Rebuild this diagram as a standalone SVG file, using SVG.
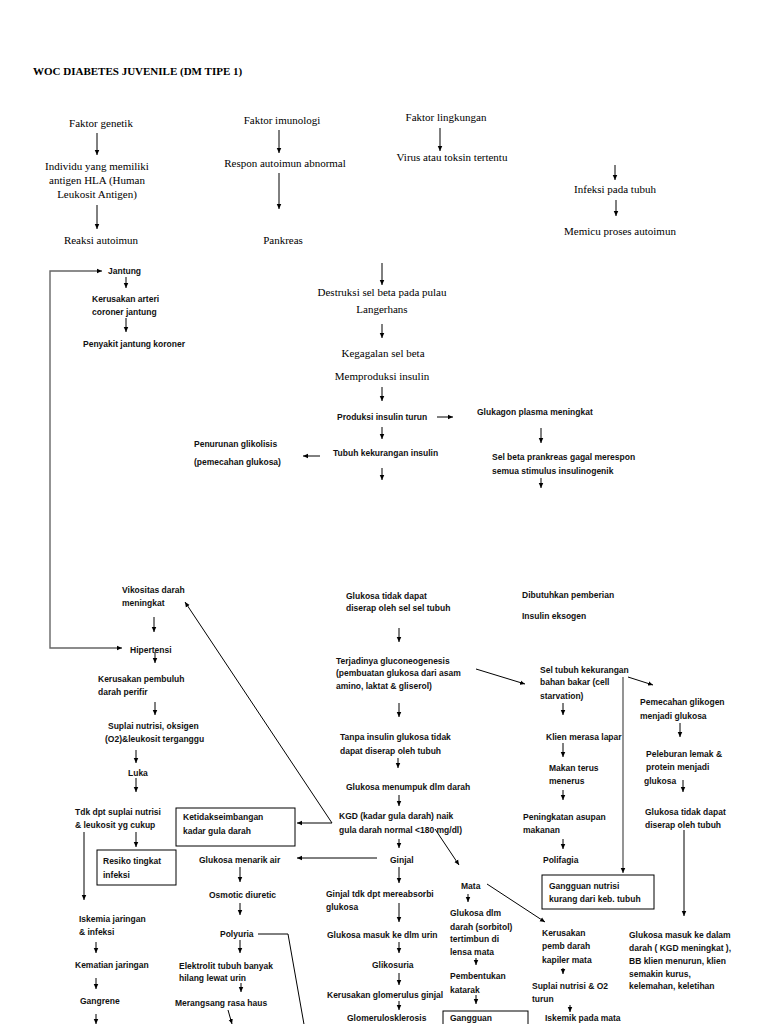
<svg xmlns="http://www.w3.org/2000/svg" width="768" height="1024" viewBox="0 0 768 1024">
<defs>
<marker id="ah" viewBox="0 0 10 10" refX="10" refY="5" markerWidth="5" markerHeight="6" markerUnits="userSpaceOnUse" orient="auto"><path d="M0,0.5 L10,5 L0,9.5 z" fill="#000"/></marker>
<style>
.sr{font-family:"Liberation Serif","Times New Roman",serif;font-size:11px;fill:#000;text-anchor:middle}
.tt{font-family:"Liberation Serif","Times New Roman",serif;font-size:11px;font-weight:bold;fill:#000}
.ss{font-family:"Liberation Sans",Arial,sans-serif;font-size:8.5px;font-weight:bold;fill:#111}
.c line,.c path{stroke:#000;stroke-width:1;fill:none}
.c .a{marker-end:url(#ah)}
.c .g{stroke:#666;stroke-width:1.4}
.bx{fill:none;stroke:#000;stroke-width:1}
</style>
</defs>
<rect width="768" height="1024" fill="#fff"/>
<text class="tt" x="33" y="75">WOC DIABETES JUVENILE (DM TIPE 1)</text>

<g id="n-genetik"><text class="sr" x="101" y="127">Faktor genetik</text></g>
<g id="n-hla"><text class="sr" x="97" y="170">Individu yang memiliki</text><text class="sr" x="97" y="184">antigen HLA (Human</text><text class="sr" x="97" y="198">Leukosit Antigen)</text></g>
<g id="n-reaksi"><text class="sr" x="101" y="244">Reaksi autoimun</text></g>
<g id="n-imunologi"><text class="sr" x="282" y="124">Faktor imunologi</text></g>
<g id="n-respon"><text class="sr" x="285" y="167">Respon autoimun abnormal</text></g>
<g id="n-pankreas"><text class="sr" x="283" y="244">Pankreas</text></g>
<g id="n-lingkungan"><text class="sr" x="446" y="121">Faktor lingkungan</text></g>
<g id="n-virus"><text class="sr" x="452" y="161">Virus atau toksin tertentu</text></g>
<g id="n-infeksi"><text class="sr" x="615" y="193">Infeksi pada tubuh</text></g>
<g id="n-memicu"><text class="sr" x="620" y="235">Memicu proses autoimun</text></g>
<g id="n-destruksi"><text class="sr" x="382" y="296">Destruksi sel beta pada pulau</text><text class="sr" x="382" y="313">Langerhans</text></g>
<g id="n-kegagalan"><text class="sr" x="383" y="357">Kegagalan sel beta</text><text class="sr" x="382" y="380">Memproduksi insulin</text></g>

<g id="n-jantung"><text class="ss" x="108" y="274">Jantung</text></g>
<g id="n-arteri"><text class="ss" x="92" y="302">Kerusakan arteri</text><text class="ss" x="92" y="315">coroner jantung</text></g>
<g id="n-pjk"><text class="ss" x="83" y="347">Penyakit jantung koroner</text></g>
<g id="n-produksi"><text class="ss" x="337" y="420">Produksi insulin turun</text></g>
<g id="n-glukagon"><text class="ss" x="477" y="415">Glukagon plasma meningkat</text></g>
<g id="n-selbeta"><text class="ss" x="492" y="460">Sel beta prankreas gagal merespon</text><text class="ss" x="492" y="474">semua stimulus insulinogenik</text></g>
<g id="n-kurang-insulin"><text class="ss" x="333" y="456">Tubuh kekurangan insulin</text></g>
<g id="n-glikolisis"><text class="ss" x="194" y="447">Penurunan glikolisis</text><text class="ss" x="194" y="465">(pemecahan glukosa)</text></g>

<g id="n-vikositas"><text class="ss" x="122" y="593">Vikositas darah</text><text class="ss" x="122" y="606">meningkat</text></g>
<g id="n-hipertensi"><text class="ss" x="130" y="653">Hipertensi</text></g>
<g id="n-pembuluh"><text class="ss" x="98" y="682">Kerusakan pembuluh</text><text class="ss" x="98" y="695">darah perifir</text></g>
<g id="n-suplai"><text class="ss" x="108" y="729">Suplai nutrisi, oksigen</text><text class="ss" x="105" y="742">(O2)&amp;leukosit terganggu</text></g>
<g id="n-luka"><text class="ss" x="128" y="776">Luka</text></g>
<g id="n-tdk"><text class="ss" x="75" y="815">Tdk dpt suplai nutrisi</text><text class="ss" x="75" y="828">&amp; leukosit yg cukup</text></g>
<g id="n-resiko"><rect class="bx" x="97" y="850" width="79" height="35"/><text class="ss" x="103" y="864">Resiko tingkat</text><text class="ss" x="103" y="878">infeksi</text></g>
<g id="n-iskemia"><text class="ss" x="79" y="922">Iskemia jaringan</text><text class="ss" x="79" y="935">&amp; infeksi</text></g>
<g id="n-kematian"><text class="ss" x="75" y="968">Kematian jaringan</text></g>
<g id="n-gangrene"><text class="ss" x="80" y="1004">Gangrene</text></g>
<g id="n-ketidak"><rect class="bx" x="176" y="808" width="119" height="38"/><text class="ss" x="183" y="820">Ketidakseimbangan</text><text class="ss" x="183" y="834">kadar gula darah</text></g>
<g id="n-menarik"><text class="ss" x="199" y="863">Glukosa menarik air</text></g>
<g id="n-osmotic"><text class="ss" x="209" y="898">Osmotic diuretic</text></g>
<g id="n-polyuria"><text class="ss" x="220" y="937">Polyuria</text></g>
<g id="n-elektrolit"><text class="ss" x="179" y="969">Elektrolit tubuh banyak</text><text class="ss" x="179" y="981">hilang lewat urin</text></g>
<g id="n-haus"><text class="ss" x="175" y="1006">Merangsang rasa haus</text></g>

<g id="n-tdkdapat"><text class="ss" x="346" y="599">Glukosa tidak dapat</text><text class="ss" x="346" y="611">diserap oleh sel sel tubuh</text></g>
<g id="n-gluco"><text class="ss" x="336" y="664">Terjadinya gluconeogenesis</text><text class="ss" x="336" y="676">(pembuatan glukosa dari asam</text><text class="ss" x="336" y="689">amino, laktat &amp; gliserol)</text></g>
<g id="n-tanpa"><text class="ss" x="340" y="740">Tanpa insulin glukosa tidak</text><text class="ss" x="340" y="754">dapat diserap oleh tubuh</text></g>
<g id="n-menumpuk"><text class="ss" x="346" y="790">Glukosa menumpuk dlm darah</text></g>
<g id="n-kgd"><text class="ss" x="339" y="819">KGD (kadar gula darah) naik</text><text class="ss" x="339" y="833">gula darah normal &lt;180 mg/dl)</text></g>
<g id="n-ginjal"><text class="ss" x="390" y="863">Ginjal</text></g>
<g id="n-reabsorbi"><text class="ss" x="326" y="897">Ginjal tdk dpt mereabsorbi</text><text class="ss" x="326" y="910">glukosa</text></g>
<g id="n-urin"><text class="ss" x="327" y="938">Glukosa masuk ke dlm urin</text></g>
<g id="n-glikosuria"><text class="ss" x="372" y="968">Glikosuria</text></g>
<g id="n-glomerulus"><text class="ss" x="327" y="998">Kerusakan glomerulus ginjal</text></g>
<g id="n-glomerulo"><text class="ss" x="347" y="1021">Glomerulosklerosis</text></g>
<g id="n-mata"><text class="ss" x="461" y="889">Mata</text></g>
<g id="n-sorbitol"><text class="ss" x="450" y="916">Glukosa dlm</text><text class="ss" x="450" y="930">darah (sorbitol)</text><text class="ss" x="450" y="942">tertimbun di</text><text class="ss" x="450" y="955">lensa mata</text></g>
<g id="n-katarak"><text class="ss" x="450" y="979">Pembentukan</text><text class="ss" x="450" y="993">katarak</text></g>
<g id="n-gangguan"><rect class="bx" x="443" y="1011" width="85" height="20"/><text class="ss" x="450" y="1021">Gangguan</text></g>

<g id="n-dibutuhkan"><text class="ss" x="522" y="598">Dibutuhkan pemberian</text><text class="ss" x="522" y="619">Insulin eksogen</text></g>
<g id="n-starvation"><text class="ss" x="540" y="673">Sel tubuh kekurangan</text><text class="ss" x="540" y="685">bahan bakar (cell</text><text class="ss" x="540" y="699">starvation)</text></g>
<g id="n-lapar"><text class="ss" x="546" y="740">Klien merasa lapar</text></g>
<g id="n-makan"><text class="ss" x="549" y="771">Makan terus</text><text class="ss" x="549" y="784">menerus</text></g>
<g id="n-asupan"><text class="ss" x="523" y="820">Peningkatan asupan</text><text class="ss" x="523" y="833">makanan</text></g>
<g id="n-polifagia"><text class="ss" x="543" y="863">Polifagia</text></g>
<g id="n-nutrisi"><rect class="bx" x="542" y="875" width="112" height="34"/><text class="ss" x="549" y="889">Gangguan nutrisi</text><text class="ss" x="549" y="902">kurang dari keb. tubuh</text></g>
<g id="n-kapiler"><text class="ss" x="542" y="936">Kerusakan</text><text class="ss" x="542" y="949">pemb darah</text><text class="ss" x="542" y="963">kapiler mata</text></g>
<g id="n-o2"><text class="ss" x="532" y="989">Suplai nutrisi &amp; O2</text><text class="ss" x="532" y="1002">turun</text></g>
<g id="n-iskemik"><text class="ss" x="545" y="1021">Iskemik pada mata</text></g>
<g id="n-glikogen"><text class="ss" x="640" y="705">Pemecahan glikogen</text><text class="ss" x="640" y="719">menjadi glukosa</text></g>
<g id="n-lemak"><text class="ss" x="646" y="757">Peleburan lemak &amp;</text><text class="ss" x="646" y="770">protein menjadi</text><text class="ss" x="644" y="784">glukosa</text></g>
<g id="n-tdkdapat2"><text class="ss" x="645" y="815">Glukosa tidak dapat</text><text class="ss" x="645" y="828">diserap oleh tubuh</text></g>
<g id="n-bb"><text class="ss" x="629" y="938">Glukosa masuk ke dalam</text><text class="ss" x="629" y="951">darah ( KGD meningkat ),</text><text class="ss" x="629" y="964">BB klien menurun, klien</text><text class="ss" x="629" y="977">semakin kurus,</text><text class="ss" x="629" y="989">kelemahan, keletihan</text></g>

<g id="connectors" class="c">
<line class="a" x1="97" y1="133" x2="97" y2="155"/>
<line class="a" x1="97" y1="205" x2="97" y2="229"/>
<line class="a" x1="279" y1="130" x2="279" y2="153"/>
<line class="a" x1="279" y1="173" x2="279" y2="209"/>
<line class="a" x1="440" y1="128" x2="440" y2="151"/>
<line class="a" x1="615" y1="165" x2="615" y2="180"/>
<line class="a" x1="616" y1="200" x2="616" y2="216"/>
<line class="a" x1="382" y1="263" x2="382" y2="285"/>
<line class="a" x1="382" y1="324" x2="382" y2="338"/>
<line class="a" x1="382" y1="387" x2="382" y2="401"/>
<line class="a" x1="437" y1="417" x2="453" y2="417"/>
<line class="a" x1="541" y1="428" x2="541" y2="443"/>
<line class="a" x1="382" y1="427" x2="382" y2="439"/>
<line class="a" x1="320" y1="456" x2="303" y2="456"/>
<line class="a" x1="541" y1="478" x2="541" y2="488"/>
<line class="a" x1="382" y1="468" x2="382" y2="480"/>
<path class="g" d="M50,460 L50,271 L102,271" style="marker-end:url(#ah)"/>
<path class="g" d="M50,460 L50,648 L122,648" style="marker-end:url(#ah)"/>
<line class="a" x1="126" y1="277" x2="126" y2="288"/>
<line class="a" x1="126" y1="318" x2="126" y2="332"/>
<line class="a" x1="154" y1="617" x2="154" y2="632"/>
<line class="a" x1="155" y1="652" x2="155" y2="663"/>
<line class="a" x1="155" y1="702" x2="155" y2="715"/>
<line class="a" x1="136" y1="750" x2="136" y2="763"/>
<line class="a" x1="136" y1="778" x2="136" y2="792"/>
<line class="a" x1="332" y1="823" x2="185" y2="602"/>
<line class="a" x1="332" y1="823" x2="297" y2="823"/>
<line class="a" x1="136" y1="832" x2="136" y2="847"/>
<line class="a" x1="84" y1="832" x2="84" y2="900"/>
<line class="a" x1="96" y1="942" x2="96" y2="953"/>
<line class="a" x1="96" y1="978" x2="96" y2="989"/>
<line class="a" x1="96" y1="1014" x2="96" y2="1024"/>
<line class="a" x1="377" y1="858" x2="297" y2="858"/>
<line class="a" x1="240" y1="867" x2="240" y2="882"/>
<line class="a" x1="240" y1="903" x2="240" y2="915"/>
<path d="M258,934 L288,934 L305,1030"/>
<line class="a" x1="240" y1="940" x2="240" y2="953"/>
<line class="a" x1="241" y1="983" x2="241" y2="992"/>
<line class="a" x1="228" y1="1010" x2="232" y2="1024"/>
<line class="a" x1="399" y1="628" x2="399" y2="642"/>
<line class="a" x1="476" y1="669" x2="525" y2="684"/>
<line class="a" x1="399" y1="703" x2="399" y2="717"/>
<line class="a" x1="398" y1="758" x2="398" y2="768"/>
<line class="a" x1="399" y1="795" x2="399" y2="806"/>
<line class="a" x1="399" y1="839" x2="399" y2="848"/>
<line class="a" x1="435" y1="829" x2="459" y2="865"/>
<line class="a" x1="399" y1="867" x2="399" y2="883"/>
<line class="a" x1="468" y1="894" x2="468" y2="902"/>
<line class="a" x1="399" y1="903" x2="399" y2="922"/>
<line class="a" x1="399" y1="942" x2="399" y2="953"/>
<line class="a" x1="399" y1="973" x2="399" y2="985"/>
<line class="a" x1="399" y1="1001" x2="399" y2="1010"/>
<line class="a" x1="476" y1="958" x2="476" y2="965"/>
<line class="a" x1="476" y1="995" x2="476" y2="1004"/>
<line class="a" x1="487" y1="884" x2="545" y2="922"/>
<line class="a" x1="563" y1="703" x2="563" y2="715"/>
<path class="g" d="M623,677 L623,873" style="marker-end:url(#ah)"/>
<line class="a" x1="628" y1="677" x2="653" y2="685"/>
<line class="a" x1="680" y1="723" x2="680" y2="737"/>
<line class="a" x1="563" y1="743" x2="563" y2="757"/>
<line class="a" x1="563" y1="790" x2="563" y2="800"/>
<line class="a" x1="683" y1="780" x2="683" y2="792"/>
<line class="a" x1="563" y1="839" x2="563" y2="849"/>
<line class="a" x1="684" y1="830" x2="684" y2="916"/>
<line class="a" x1="563" y1="968" x2="563" y2="974"/>
<line class="a" x1="570" y1="1005" x2="570" y2="1012"/>
</g>
</svg>
